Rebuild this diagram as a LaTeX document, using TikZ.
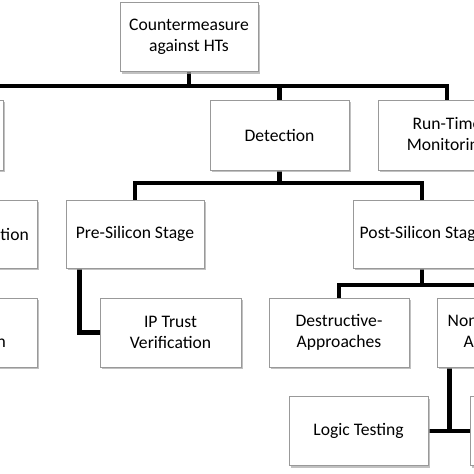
\documentclass[tikz,border=0pt]{standalone}
\usepackage{fontspec}
\setmainfont{Carlito}
\usetikzlibrary{backgrounds,shadows}
\tikzset{
  box/.style={draw=black!40, line width=0.9pt, fill=white, minimum width=138pt, minimum height=69pt,
    align=center, inner sep=2pt, font=\fontsize{17.6}{21}\selectfont, text=black,
    drop shadow={shadow xshift=1.6pt, shadow yshift=-2.2pt, fill=black!35, opacity=0.7}},
  frag/.style={font=\fontsize{17.6}{21}\selectfont, text=black, inner sep=0pt},
  conn/.style={line width=4.6pt, draw=black, line cap=rect, line join=miter}
}
\begin{document}
\begin{tikzpicture}[x=1pt,y=-1pt]
\useasboundingbox (0,0) rectangle (474,474);
\clip (0,0) rectangle (474,474);
% level 0
\node[box] (top) at (189,37) {Countermeasure\\against HTs};
% level 1
\node[box, minimum width=140pt, minimum height=70pt] (l1) at (-67,135) {};
\node[box, minimum width=139pt, minimum height=70pt] (det) at (279.5,135) {Detection};
\node[box, minimum height=70pt] (rtm) at (447,135) {Run-Time\\Monitoring};
% level 2
\node[box, minimum height=68pt] (l2) at (-32,234) {};
\node[frag, anchor=east] (l2t) at (29,234) {tion};
\node[box, minimum height=68pt] (pre) at (135,234) {Pre-Silicon Stage};
\node[box, minimum height=68pt] (post) at (422,234) {Post-Silicon Stage};
% level 3
\node[box] (l3) at (-32,332.5) {};
\node[frag, anchor=east] (l3t) at (6,343) {n};
\node[box, minimum width=141pt] (ipt) at (170.5,332.5) {IP Trust\\Verification};
\node[box, minimum width=140pt] (des) at (339,332.5) {Destructive-\\Approaches};
\node[box] (nd) at (506,332.5) {Non-Destructive\\Approaches};
% level 4
\node[box, minimum width=139pt] (lt) at (358.5,431) {Logic Testing};
\node[box] (rb) at (539,431) {};
% connectors
\begin{scope}[on background layer]
\coordinate (b1) at (0,86);
\coordinate (b2) at (0,183);
\coordinate (b3) at (0,285);
\draw[conn] (l1.north) -- (l1.north |- b1) -- (rtm.north |- b1) -- (rtm.north);
\draw[conn] (top.south) -- (top.south |- b1);
\draw[conn] (det.north) -- (det.north |- b1);
\draw[conn] (det.south) -- (det.south |- b2);
\draw[conn] (pre.north) -- (pre.north |- b2) -- (post.north |- b2) -- (post.north);
\draw[conn] (post.south) -- (post.south |- b3);
\draw[conn] (des.north) -- (des.north |- b3) -- (nd.north |- b3) -- (nd.north);
\draw[conn] ([xshift=14pt]pre.south west) |- (ipt.west);
\coordinate (ndl) at ([xshift=13pt]nd.south west);
\draw[conn] (ndl) -- (ndl |- lt.east);
\draw[conn] (lt.east) -- (rb.west);
\end{scope}
\end{tikzpicture}
\end{document}
